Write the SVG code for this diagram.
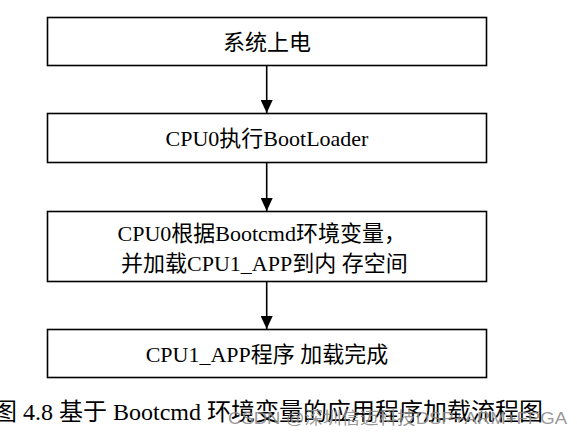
<svg xmlns="http://www.w3.org/2000/svg" width="577" height="437" viewBox="0 0 577 437">
  <defs>
    <style>
      .box { fill: #ffffff; stroke: #000000; stroke-width: 1.6; }
      .lbl { font-family: "Liberation Serif", "Noto Sans CJK SC", serif; font-size: 22px; fill: #000000; }
      .mid { text-anchor: middle; }
      .conn { stroke: #000000; stroke-width: 1.6; fill: none; marker-end: url(#arrow); }
      .cap { font-family: "Liberation Serif", "Noto Sans CJK SC", serif; font-size: 24px; fill: #000000; }
      .wm { font-family: "Liberation Sans", "Noto Sans CJK SC", sans-serif; font-size: 17px; fill: #8a8a8a; fill-opacity: 0.9; }
    </style>
    <marker id="arrow" viewBox="0 0 13 12" refX="13" refY="6" markerWidth="13" markerHeight="12" markerUnits="userSpaceOnUse" orient="auto">
      <path d="M0,0 L13,6 L0,12 Z" fill="#000000"/>
    </marker>
  </defs>
  <rect width="577" height="437" fill="#ffffff"/>

  <g id="connectors">
    <line class="conn" x1="266.7" y1="66" x2="266.7" y2="113"/>
    <line class="conn" x1="266.7" y1="163" x2="266.7" y2="211"/>
    <line class="conn" x1="266.7" y1="282" x2="266.7" y2="329"/>
  </g>

  <g id="node1">
    <rect class="box" x="47.5" y="17.5" width="439" height="48"/>
    <text class="lbl mid" x="267" y="49.5">系统上电</text>
  </g>
  <g id="node2">
    <rect class="box" x="47.5" y="113.5" width="439" height="49"/>
    <text class="lbl mid" x="267" y="146">CPU0执行BootLoader</text>
  </g>
  <g id="node3">
    <rect class="box" x="47.5" y="211.5" width="439" height="70"/>
    <text class="lbl" x="117.5" y="240.5">CPU0根据Bootcmd环境变量，</text>
    <text class="lbl" x="121" y="270.5" xml:space="preserve">并加载CPU1_APP到内 存空间</text>
  </g>
  <g id="node4">
    <rect class="box" x="47.5" y="329.5" width="439" height="48"/>
    <text class="lbl mid" x="267" y="362" xml:space="preserve">CPU1_APP程序 加载完成</text>
  </g>

  <g id="caption">
    <text class="cap" x="-7" y="420" xml:space="preserve">图 4.8 基于 Bootcmd 环境变量的应用程序加载流程图</text>
    <text class="wm" x="228" y="424" textLength="339" lengthAdjust="spacingAndGlyphs">CSDN @深圳信迈科技DSP+ARM+FPGA</text>
  </g>
</svg>
